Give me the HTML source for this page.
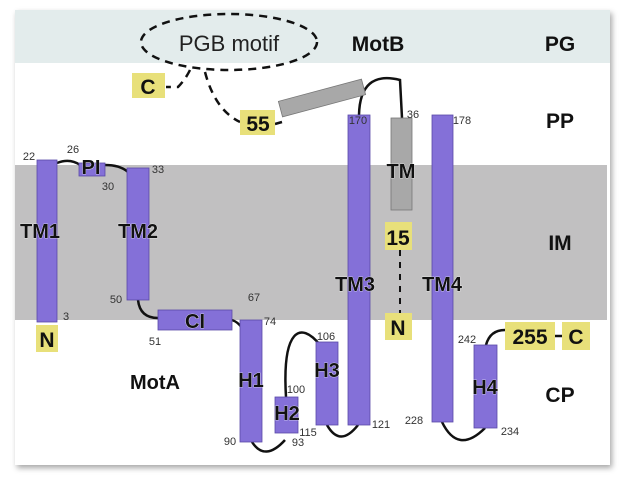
<!DOCTYPE html>
<html><head><style>body{margin:0;background:#fff}svg{display:block}</style></head><body>
<svg width="640" height="481" viewBox="0 0 640 481" font-family="Liberation Sans, sans-serif">
<defs><filter id="sh" x="-5%" y="-5%" width="110%" height="110%"><feDropShadow dx="2" dy="3" stdDeviation="3" flood-color="#000" flood-opacity="0.35"/></filter></defs>
<rect x="15" y="10" width="595" height="455" fill="#fff" filter="url(#sh)"/>
<rect x="15" y="10" width="595" height="53" fill="#e3ecec"/>
<rect x="15" y="165" width="592" height="155" fill="#c1c0c1"/>
<g stroke="#111" stroke-width="2.5" fill="none">
<path d="M57 163 Q70 158 80 165"/>
<path d="M105 165 Q120 165 128 172"/>
<path d="M138 300 Q140 318 158 318"/>
<path d="M232 320 Q238 322 242 328"/>
<path d="M252 442 Q265 462 285 440"/>
<path d="M286 397 C282 330 300 320 320 345"/>
<path d="M327 425 Q340 448 358 425"/>
<path d="M359 115 Q360 70 400 80 L402 118"/>
<path d="M442 422 Q458 455 485 428"/>
<path d="M486 345 Q490 330 505 330"/>
<path d="M555 336 L562 336"/>
<path d="M275 124 L282 122"/>
</g>
<g stroke="#111" stroke-width="2.5" fill="none" stroke-dasharray="8,6">
<ellipse cx="229" cy="42" rx="88" ry="28"/>
<path d="M190 70 Q185 80 178 87 L166 87"/>
<path d="M205 72 Q215 110 240 122"/>
<path d="M400 250 L400 313" stroke-dasharray="6,6" stroke-width="2"/>
</g>
<g fill="#8470d8" stroke="#5a4aa8" stroke-width="0.8">
<rect x="37" y="160" width="20" height="162"/>
<rect x="79" y="163" width="26" height="13"/>
<rect x="127" y="168" width="22" height="132"/>
<rect x="158" y="310" width="74" height="20"/>
<rect x="240" y="320" width="22" height="122"/>
<rect x="275" y="397" width="23" height="36"/>
<rect x="316" y="342" width="22" height="83"/>
<rect x="348" y="115" width="22" height="310"/>
<rect x="432" y="115" width="21" height="307"/>
<rect x="474" y="345" width="23" height="83"/>
</g>
<rect x="391" y="118" width="21" height="92" fill="#a8a8a8" stroke="#777" stroke-width="0.8"/>
<rect x="279" y="90" width="86" height="16" fill="#a8a8a8" stroke="#777" stroke-width="0.8" transform="rotate(-15 322 98)"/>
<g fill="#e8e07a">
<rect x="36" y="325" width="22" height="27"/>
<rect x="132" y="73" width="33" height="25"/>
<rect x="240" y="110" width="35" height="25"/>
<rect x="385" y="222" width="27" height="28"/>
<rect x="385" y="313" width="27" height="27"/>
<rect x="505" y="322" width="50" height="28"/>
<rect x="562" y="322" width="28" height="28"/>
</g>
<g font-size="21" fill="#111" text-anchor="middle">
<text x="229" y="51" font-size="22" fill="#222">PGB motif</text>
<g font-weight="bold">
<text x="378" y="51" font-size="21">MotB</text>
<text x="560" y="51">PG</text><text x="560" y="128">PP</text>
<text x="560" y="250">IM</text><text x="560" y="402">CP</text>
<text x="155" y="389" font-size="20">MotA</text>
<text x="148" y="94">C</text><text x="258" y="131">55</text>
<text x="47" y="347">N</text><text x="398" y="245">15</text><text x="398" y="335">N</text>
<text x="530" y="344">255</text><text x="576" y="344">C</text>
</g>
<g font-size="20" font-weight="bold" stroke="#fff" stroke-width="0.6" paint-order="stroke">
<text x="40" y="238">TM1</text><text x="91" y="174">PI</text><text x="138" y="238">TM2</text>
<text x="195" y="328">CI</text><text x="251" y="387">H1</text><text x="287" y="420">H2</text>
<text x="327" y="377">H3</text><text x="355" y="291">TM3</text><text x="401" y="178">TM</text>
<text x="442" y="291">TM4</text><text x="485" y="394">H4</text>
</g>
</g>
<g font-size="11" fill="#333" text-anchor="middle">
<text x="29" y="160">22</text><text x="73" y="153">26</text><text x="108" y="190">30</text>
<text x="158" y="173">33</text><text x="116" y="303">50</text><text x="66" y="320">3</text>
<text x="155" y="345">51</text><text x="254" y="301">67</text><text x="270" y="325">74</text>
<text x="230" y="445">90</text><text x="296" y="393">100</text><text x="298" y="446">93</text>
<text x="326" y="340">106</text><text x="308" y="436">115</text><text x="381" y="428">121</text>
<text x="358" y="124">170</text><text x="462" y="124">178</text><text x="413" y="118">36</text>
<text x="414" y="424">228</text><text x="467" y="343">242</text><text x="510" y="435">234</text>
</g>
</svg>
</body></html>
